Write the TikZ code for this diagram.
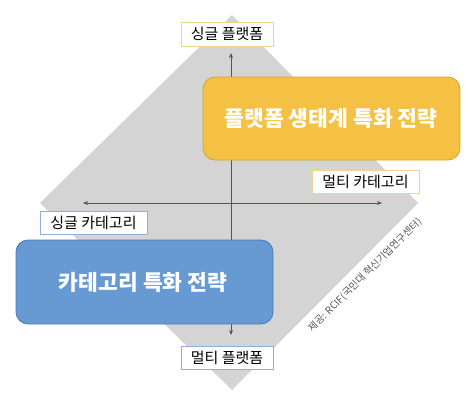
\documentclass[tikz,border=0pt]{standalone}
\usepackage{fontspec}
\setmainfont{Noto Sans CJK KR}
\usetikzlibrary{arrows.meta}
\definecolor{diag}{HTML}{D4D4D4}
\definecolor{ylwfill}{HTML}{F4C144}
\definecolor{ylwline}{HTML}{D5A32C}
\definecolor{bluefill}{HTML}{6799D2}
\definecolor{blueline}{HTML}{4A7AB8}
\definecolor{ylwlab}{HTML}{F0D48C}
\definecolor{bluelab}{HTML}{93ADDA}
\definecolor{axisc}{HTML}{555555}
\definecolor{srcc}{HTML}{555555}
\tikzset{
  bigbox/.style={rounded corners=12pt, line width=0.8pt, inner sep=0pt},
  bigtext/.style={text=white, font=\fontsize{21.5}{24}\selectfont\bfseries, inner sep=0pt},
  labbox/.style={draw, fill=white, line width=0.9pt, inner sep=0pt,
    font=\fontsize{15}{17}\selectfont, text=black},
  axisline/.style={draw=axisc, line width=1pt, -{Stealth[length=5pt,width=4pt]}},
}
\begin{document}
\begin{tikzpicture}[x=1pt,y=-1pt]
\useasboundingbox (0,0) rectangle (474,405);
% diamond
\fill[diag] (232,15) -- (418,203) -- (232,390) -- (40,203) -- cycle;
% axes
\coordinate (c) at (231,203);
\coordinate (top) at (231,53);
\coordinate (bot) at (231,335);
\coordinate (lft) at (83,203);
\coordinate (rgt) at (382,203);
\draw[axisline] (c) -- (top);
\draw[axisline] (c) -- (bot);
\draw[axisline] (c) -- (lft);
\draw[axisline] (c) -- (rgt);
% big boxes
\node[bigbox, draw=ylwline, fill=ylwfill, minimum width=257pt, minimum height=83pt] (plat) at (331.5,118.5) {};
\node[bigtext] (platt) at (331,118) {플랫폼 생태계 특화 전략};
\node[bigbox, draw=blueline, fill=bluefill, minimum width=257pt, minimum height=84pt] (cat) at (144.5,282) {};
\node[bigtext] (catt) at (143,282) {카테고리 특화 전략};
% labels
\node[labbox, draw=ylwlab, minimum width=92pt, minimum height=24pt] (sp) at (227,34) {싱글 플랫폼};
\node[labbox, draw=ylwlab, minimum width=107pt, minimum height=23pt] (mc) at (365.5,181.5) {멀티 카테고리};
\node[labbox, draw=bluelab, minimum width=107pt, minimum height=23pt] (sc) at (93.5,222.5) {싱글 카테고리};
\node[labbox, draw=bluelab, minimum width=92pt, minimum height=23pt] (mp) at (227,357.5) {멀티 플랫폼};
% source
\node[text=srcc, rotate=45, font=\fontsize{10}{11}\selectfont, inner sep=0pt] (src) at (365,275) {제공: RCIF(국민대 혁신기업연구센터)};
\end{tikzpicture}
\end{document}
